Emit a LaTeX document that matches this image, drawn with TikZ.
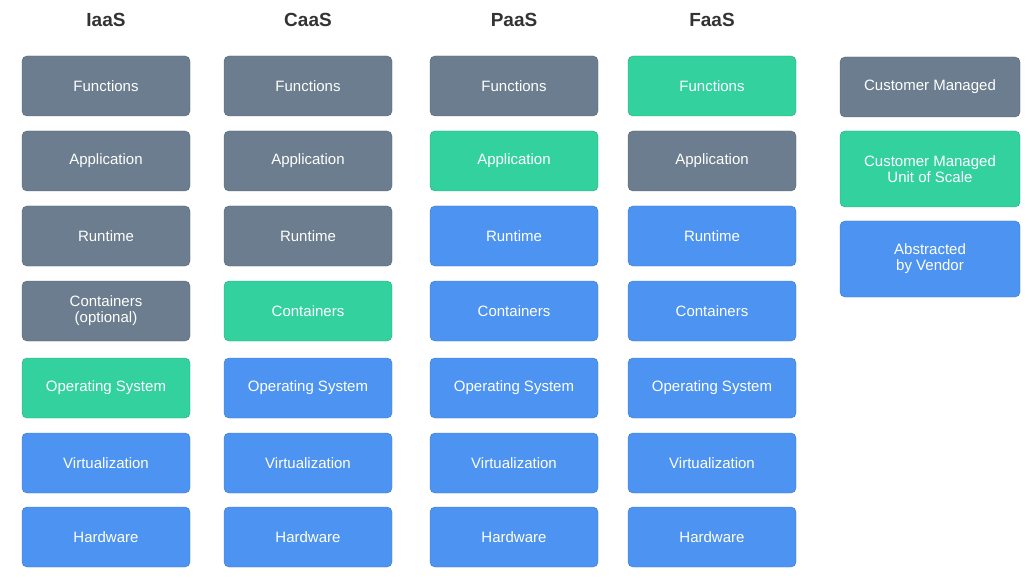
\documentclass[tikz,border=0pt]{standalone}
\usepackage{fontspec}
\setmainfont{Liberation Sans}
\definecolor{cgray}{HTML}{6B7D8E}
\definecolor{cgreen}{HTML}{33D19E}
\definecolor{cblue}{HTML}{4D94F2}
\tikzset{
  cell/.style={rounded corners=5pt, minimum width=168pt, minimum height=60pt, text=white, font=\fontsize{15}{16}\selectfont, align=center, inner sep=2pt, draw=#1!80!black, fill=#1},
  hdr/.style={font=\fontsize{19}{20}\selectfont\bfseries, text=black!80},
}
\begin{document}
\begin{tikzpicture}[x=1pt,y=-1pt]
\useasboundingbox (0,0) rectangle (1029,583);
\foreach \n/\cx/\h in {i/106/IaaS,c/308/CaaS,p/514/PaaS,f/712/FaaS}{
  \node[hdr] (h\n) at (\cx,20) {\h};
}
% rows y centers
\def\ya{86}\def\yb{161}\def\yc{236}\def\yd{311}\def\ye{388}\def\yf{463}\def\yg{537}
% IaaS
\node[cell=cgray] (i1) at (106,\ya) {Functions};
\node[cell=cgray] (i2) at (106,\yb) {Application};
\node[cell=cgray] (i3) at (106,\yc) {Runtime};
\node[cell=cgray] (i4) at (106,\yd) {Containers\\(optional)};
\node[cell=cgreen] (i5) at (106,\ye) {Operating System};
\node[cell=cblue] (i6) at (106,\yf) {Virtualization};
\node[cell=cblue] (i7) at (106,\yg) {Hardware};
% CaaS
\node[cell=cgray] (c1) at (308,\ya) {Functions};
\node[cell=cgray] (c2) at (308,\yb) {Application};
\node[cell=cgray] (c3) at (308,\yc) {Runtime};
\node[cell=cgreen] (c4) at (308,\yd) {Containers};
\node[cell=cblue] (c5) at (308,\ye) {Operating System};
\node[cell=cblue] (c6) at (308,\yf) {Virtualization};
\node[cell=cblue] (c7) at (308,\yg) {Hardware};
% PaaS
\node[cell=cgray] (p1) at (514,\ya) {Functions};
\node[cell=cgreen] (p2) at (514,\yb) {Application};
\node[cell=cblue] (p3) at (514,\yc) {Runtime};
\node[cell=cblue] (p4) at (514,\yd) {Containers};
\node[cell=cblue] (p5) at (514,\ye) {Operating System};
\node[cell=cblue] (p6) at (514,\yf) {Virtualization};
\node[cell=cblue] (p7) at (514,\yg) {Hardware};
% FaaS
\node[cell=cgreen] (f1) at (712,\ya) {Functions};
\node[cell=cgray] (f2) at (712,\yb) {Application};
\node[cell=cblue] (f3) at (712,\yc) {Runtime};
\node[cell=cblue] (f4) at (712,\yd) {Containers};
\node[cell=cblue] (f5) at (712,\ye) {Operating System};
\node[cell=cblue] (f6) at (712,\yf) {Virtualization};
\node[cell=cblue] (f7) at (712,\yg) {Hardware};
% legend
\node[cell=cgray, minimum width=180pt] (l1) at (930,87) {Customer Managed};
\node[cell=cgreen, minimum width=180pt, minimum height=76pt] (l2) at (930,169) {Customer Managed\\Unit of Scale};
\node[cell=cblue, minimum width=180pt, minimum height=76pt] (l3) at (930,259) {Abstracted\\by Vendor};
\end{tikzpicture}
\end{document}
